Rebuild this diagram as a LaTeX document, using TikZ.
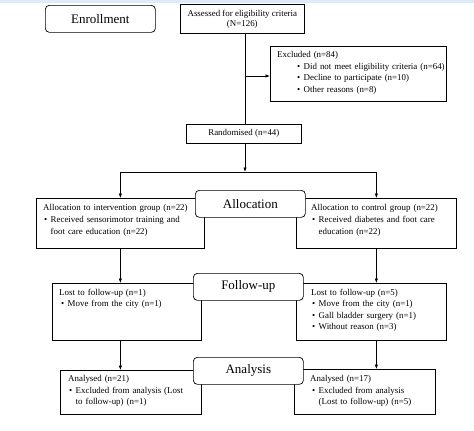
\documentclass[tikz,border=0pt]{standalone}
\usepackage{fontspec}
\setmainfont{Liberation Serif}
\usetikzlibrary{positioning,arrows.meta}

\definecolor{bandblue}{RGB}{222,234,246}

% bullet line, wrapped text kept under its first word
\newcommand{\flowitem}[2][1pt]{\par\noindent\hspace*{#1}\makebox[6.5pt][l]{\textbullet}%
\parbox[t]{170pt}{#2}}
\newcommand{\flowbreak}{\hfil\break}

\tikzset{
  flowbox/.style={draw, line width=0.7pt, anchor=north west, inner sep=0pt},
  flowtext/.style={anchor=north west, align=left, text width=190pt, inner sep=0pt,
    font=\fontsize{8.9}{11.5}\selectfont},
  stagebox/.style={draw, line width=0.7pt, rounded corners=4pt, fill=white,
    minimum width=110pt, minimum height=27pt, font=\fontsize{13}{15}\selectfont},
  flowarrow/.style={line width=0.7pt, -{Latex[length=4.5pt,width=3.5pt]}},
  flowline/.style={line width=0.7pt}
}

\begin{document}
\begin{tikzpicture}[x=1pt,y=-1pt]
\useasboundingbox (0,0) rectangle (474,431);
\fill[bandblue] (0,0) rectangle (474,2.5);

% enrollment
\node[stagebox, anchor=north west] (enrol) at (45,5) {Enrollment};
\node[flowbox, minimum width=124pt, minimum height=29pt] (assess) at (180,4) {};
\node[anchor=center, align=center, font=\fontsize{8.9}{10}\selectfont] at (assess.center)
  {Assessed for eligibility criteria\\(N=126)};

\node[flowbox, minimum width=176pt, minimum height=55pt] (excl) at (270,46) {};
\node[flowtext] at (277,51.5) {Excluded (n=84)
  \flowitem[20pt]{Did not meet eligibility criteria (n=64)}
  \flowitem[20pt]{Decline to participate (n=10)}
  \flowitem[20pt]{Other reasons (n=8)}};

\node[flowbox, minimum width=115pt, minimum height=19pt] (rand) at (186,124) {};
\node[font=\fontsize{8.9}{11.5}\selectfont] at (rand.center) {Randomised (n=44)};

% allocation
\node[flowbox, minimum width=168pt, minimum height=50pt] (allocL) at (36,198) {};
\node[flowtext, font=\fontsize{8.9}{12.3}\selectfont] at (43,204) {Allocation to intervention group (n=22)
  \flowitem{Received sensorimotor training and\flowbreak foot care education (n=22)}};
\node[flowbox, minimum width=160pt, minimum height=50pt] (allocR) at (296,198) {};
\node[flowtext, font=\fontsize{8.9}{12.3}\selectfont] at (311,204) {Allocation to control group (n=22)
  \flowitem{Received diabetes and foot care\flowbreak education (n=22)}};

% follow-up
\node[flowbox, minimum width=149pt, minimum height=57pt] (fuL) at (52,283) {};
\node[flowtext] at (59,289) {Lost to follow-up (n=1)
  \flowitem[2pt]{Move from the city (n=1)}};
\node[flowbox, minimum width=150pt, minimum height=57pt] (fuR) at (296,283) {};
\node[flowtext] at (311,289) {Lost to follow-up (n=5)
  \flowitem{Move from the city (n=1)}
  \flowitem{Gall bladder surgery (n=1)}
  \flowitem{Without reason (n=3)}};

% analysis
\node[flowbox, minimum width=141pt, minimum height=44pt] (anL) at (60,370) {};
\node[flowtext] at (68,375.5) {Analysed (n=21)
  \flowitem{Excluded from analysis (Lost\flowbreak to follow-up) (n=1)}};
\node[flowbox, minimum width=141pt, minimum height=45pt] (anR) at (294,369) {};
\node[flowtext] at (310,375.5) {Analysed (n=17)
  \flowitem[2pt]{Excluded from analysis\flowbreak (Lost to follow-up) (n=5)}};

% stage labels
\node[stagebox, anchor=north west] (alloc) at (195,190) {Allocation};
\node[stagebox, anchor=north west] (follow) at (193,273) {Follow-up};
\node[stagebox, anchor=north west] (analysis) at (193,357) {Analysis};

% connectors
\coordinate (splitexcl) at (245,76);
\coordinate (fork) at (245,172);
\draw[flowline] (245,0 |- assess.south) -- (245,0 |- rand.north);
\draw[flowarrow] (splitexcl) -- (excl.west |- splitexcl);
\draw[flowarrow] (245,0 |- rand.south) -- (fork);
\draw[flowarrow] (fork) -| (allocL.north);
\draw[flowarrow] (fork) -| (allocR.north);
\draw[flowarrow] (allocL.south) -- (allocL.south |- fuL.north);
\draw[flowarrow] (allocR.south) -- (allocR.south |- fuR.north);
\draw[flowarrow] (allocL.south |- fuL.south) -- (allocL.south |- anL.north);
\draw[flowarrow] (allocR.south |- fuR.south) -- (allocR.south |- anR.north);
\end{tikzpicture}
\end{document}
